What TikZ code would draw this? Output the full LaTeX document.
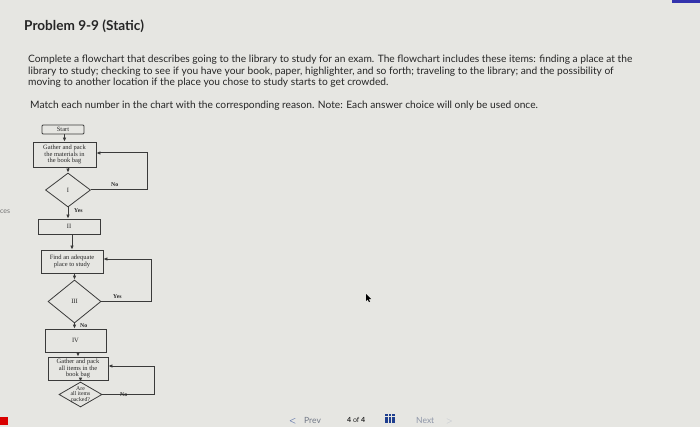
\documentclass[tikz,border=0pt]{standalone}
\usepackage{fontspec}
\setmainfont{Lato}
\newfontfamily\chartfont{Liberation Serif}
\usetikzlibrary{shapes.geometric,arrows.meta}
\definecolor{bg}{HTML}{E6E6E2}
\definecolor{ink}{HTML}{262626}
\definecolor{line}{HTML}{3A3A3A}
\definecolor{navblue}{HTML}{1F3F8F}
\definecolor{navgray}{HTML}{8E96A8}
\tikzset{
  para/.style={anchor=base west, inner sep=0pt, text=ink, font=\fontsize{10.2}{12}\selectfont},
  box/.style={draw=line, line width=0.8pt, inner sep=0pt, align=center, text=ink, font=\chartfont\fontsize{6.5}{6.6}\selectfont},
  dia/.style={box, shape=diamond},
  flow/.style={draw=line, line width=1pt, -{Latex[length=4pt,width=3.6pt]}},
  lab/.style={inner sep=0pt, text=ink, font=\chartfont\bfseries\fontsize{5.8}{6}\selectfont},
}
\begin{document}
\begin{tikzpicture}[x=1pt,y=-1pt]
\fill[bg] (0,0) rectangle (700,427);
\useasboundingbox (0,0) rectangle (700,427);
\fill[blue!60!black!80] (672,0) rectangle (700,3);
% texts
\node[anchor=base west, inner sep=0pt, text=ink, font=\fontsize{13.6}{15}\selectfont\bfseries] (title) at (24,31) {Problem 9-9 (Static)};
\node[para] (p1) at (28,63) {Complete a flowchart that describes going to the library to study for an exam. The flowchart includes these items: finding a place at the};
\node[para] (p2) at (28,74.5) {library to study; checking to see if you have your book, paper, highlighter, and so forth; traveling to the library; and the possibility of};
\node[para] (p3) at (28,86) {moving to another location if the place you chose to study starts to get crowded.};
\node[para] (p4) at (30,109) {Match each number in the chart with the corresponding reason. Note: Each answer choice will only be used once.};
\node[anchor=base west, inner sep=0pt, text=black!55, font=\fontsize{7}{8}\selectfont] (ces) at (0,214) {ces};
% flowchart
\node[box, rounded corners=1pt, minimum width=42pt, minimum height=9pt] (start) at (63,129.5) {Start};
\node[box, minimum width=63pt, minimum height=25pt] (g1) at (64.5,154.5) {Gather and pack\\the materials in\\the book bag};
\node[dia, minimum width=45pt, minimum height=34pt] (d1) at (68,190) {};
\node[box, draw=none] (d1t) at (d1.center) {I};
\node[box, minimum width=62pt, minimum height=15pt] (b2) at (69,226.5) {II};
\node[box, minimum width=62pt, minimum height=23pt] (find) at (72,261.5) {Find an adequate\\place to study};
\node[dia, minimum width=53pt, minimum height=43pt] (d3) at (74.5,301.5) {};
\node[box, draw=none] (d3t) at (d3.center) {III};
\node[box, minimum width=61pt, minimum height=23pt] (b4) at (75.5,340.5) {IV};
\node[box, minimum width=60pt, minimum height=23pt] (g2) at (78,368.5) {Gather and pack\\all items in the\\book bag};
\node[dia, minimum width=43pt, minimum height=25pt] (d5) at (80.5,394.5) {};
\node[box, draw=none, font=\chartfont\fontsize{5.8}{5.7}\selectfont] (d5t) at (d5.center) {Are\\all items\\packed?};
\coordinate (c1a) at (147.5,190);
\coordinate (c1b) at (147.5,153);
\coordinate (c3a) at (151.5,301.5);
\coordinate (c3b) at (151.5,259);
\coordinate (c5a) at (154,394.5);
\coordinate (c5b) at (154,366);
\draw[flow] (start.south -| g1.north) -- (g1.north);
\draw[flow] (g1.south -| d1.north) -- (d1.north);
\draw[flow] (d1.east) -- (c1a) -- (c1b) -- (c1b -| g1.east);
\draw[flow] (d1.south) -- (d1.south |- b2.north);
\draw[flow] (b2.south -| find.north) -- (find.north);
\draw[flow] (find.south -| d3.north) -- (d3.north);
\draw[flow] (d3.east) -- (c3a) -- (c3b) -- (c3b -| find.east);
\draw[flow] (d3.south) -- (d3.south |- b4.north);
\draw[flow] (b4.south -| g2.north) -- (g2.north);
\draw[flow] (g2.south -| d5.north) -- (d5.north);
\draw[flow] (d5.east) -- (c5a) -- (c5b) -- (c5b -| g2.east);
\node[lab, anchor=base west] (no1) at (111,187) {No};
\node[lab, anchor=base west] (yes1) at (74,213) {Yes};
\node[lab, anchor=base west] (yes3) at (113,298.5) {Yes};
\node[lab, anchor=base west] (no3) at (80,327) {No};
\node[lab, anchor=base west] (no5) at (120,396) {No};
% cursor
\fill[black] (366,294) -- (366,301) -- (367.6,299.4) -- (369,302) -- (370,301.5) -- (368.7,299) -- (371,299) -- cycle;
% bottom navigation
\fill[red!85!black] (0,417) rectangle (8,425);
\node[anchor=base west, inner sep=0pt, text=navblue, font=\fontsize{9}{10}\selectfont\bfseries] (lt) at (289,423) {$<$};
\node[anchor=base west, inner sep=0pt, text=navgray!80!black, font=\fontsize{8.5}{10}\selectfont] (prev) at (304,423) {Prev};
\node[anchor=base west, inner sep=0pt, text=ink, font=\fontsize{7}{10}\selectfont] (pg) at (347,422.5) {\textbf{4} of \textbf{4}};
\foreach \i in {0,1,2} \foreach \j in {0,1,2} \fill[navblue] (385+\i*3.6,414+\j*3.2) rectangle ++(2.6,2.3);
\node[anchor=base west, inner sep=0pt, text=navgray, font=\fontsize{8.5}{10}\selectfont] (next) at (416,423) {Next};
\node[anchor=base west, inner sep=0pt, text=navgray!60, font=\fontsize{8}{10}\selectfont] (gt) at (446,423) {$>$};
\end{tikzpicture}
\end{document}
